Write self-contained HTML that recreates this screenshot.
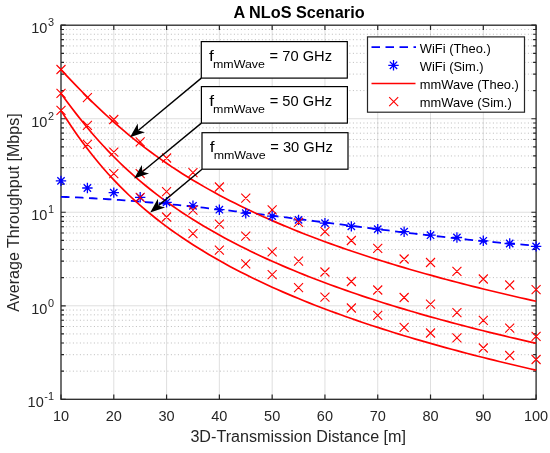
<!DOCTYPE html><html><head><meta charset="utf-8"><style>html,body{margin:0;padding:0;background:#fff;}svg{display:block;}text{font-family:"Liberation Sans",Arial,Helvetica,sans-serif;}</style></head><body>
<svg width="550" height="453" viewBox="0 0 550 453">
<rect x="0" y="0" width="550" height="453" fill="#fff"/>
<path d="M62.4 371.15H535.1 M62.4 354.68H535.1 M62.4 342.99H535.1 M62.4 333.93H535.1 M62.4 326.52H535.1 M62.4 320.26H535.1 M62.4 314.84H535.1 M62.4 310.05H535.1 M62.4 277.62H535.1 M62.4 261.15H535.1 M62.4 249.47H535.1 M62.4 240.40H535.1 M62.4 233.00H535.1 M62.4 226.74H535.1 M62.4 221.31H535.1 M62.4 216.53H535.1 M62.4 184.10H535.1 M62.4 167.63H535.1 M62.4 155.94H535.1 M62.4 146.88H535.1 M62.4 139.47H535.1 M62.4 133.21H535.1 M62.4 127.79H535.1 M62.4 123.00H535.1 M62.4 90.57H535.1 M62.4 74.10H535.1 M62.4 62.42H535.1 M62.4 53.35H535.1 M62.4 45.95H535.1 M62.4 39.69H535.1 M62.4 34.26H535.1 M62.4 29.48H535.1" stroke="#262626" stroke-opacity="0.3" stroke-width="1" stroke-dasharray="1 2.5" fill="none"/>
<path d="M61.0 305.78H536.1 M61.0 212.25H536.1 M61.0 118.73H536.1 M113.79 25.2V399.3 M166.58 25.2V399.3 M219.37 25.2V399.3 M272.16 25.2V399.3 M324.94 25.2V399.3 M377.73 25.2V399.3 M430.52 25.2V399.3 M483.31 25.2V399.3" stroke="#262626" stroke-opacity="0.15" stroke-width="1" fill="none"/>
<path d="M61.00 399.3v-4.75M61.00 25.2v4.75 M113.79 399.3v-4.75M113.79 25.2v4.75 M166.58 399.3v-4.75M166.58 25.2v4.75 M219.37 399.3v-4.75M219.37 25.2v4.75 M272.16 399.3v-4.75M272.16 25.2v4.75 M324.94 399.3v-4.75M324.94 25.2v4.75 M377.73 399.3v-4.75M377.73 25.2v4.75 M430.52 399.3v-4.75M430.52 25.2v4.75 M483.31 399.3v-4.75M483.31 25.2v4.75 M536.10 399.3v-4.75M536.10 25.2v4.75 M61.0 399.30h4.75M536.1 399.30h-4.75 M61.0 305.78h4.75M536.1 305.78h-4.75 M61.0 212.25h4.75M536.1 212.25h-4.75 M61.0 118.73h4.75M536.1 118.73h-4.75 M61.0 25.20h4.75M536.1 25.20h-4.75 M61.0 371.15h3.0M536.1 371.15h-3.0 M61.0 354.68h3.0M536.1 354.68h-3.0 M61.0 342.99h3.0M536.1 342.99h-3.0 M61.0 333.93h3.0M536.1 333.93h-3.0 M61.0 326.52h3.0M536.1 326.52h-3.0 M61.0 320.26h3.0M536.1 320.26h-3.0 M61.0 314.84h3.0M536.1 314.84h-3.0 M61.0 310.05h3.0M536.1 310.05h-3.0 M61.0 277.62h3.0M536.1 277.62h-3.0 M61.0 261.15h3.0M536.1 261.15h-3.0 M61.0 249.47h3.0M536.1 249.47h-3.0 M61.0 240.40h3.0M536.1 240.40h-3.0 M61.0 233.00h3.0M536.1 233.00h-3.0 M61.0 226.74h3.0M536.1 226.74h-3.0 M61.0 221.31h3.0M536.1 221.31h-3.0 M61.0 216.53h3.0M536.1 216.53h-3.0 M61.0 184.10h3.0M536.1 184.10h-3.0 M61.0 167.63h3.0M536.1 167.63h-3.0 M61.0 155.94h3.0M536.1 155.94h-3.0 M61.0 146.88h3.0M536.1 146.88h-3.0 M61.0 139.47h3.0M536.1 139.47h-3.0 M61.0 133.21h3.0M536.1 133.21h-3.0 M61.0 127.79h3.0M536.1 127.79h-3.0 M61.0 123.00h3.0M536.1 123.00h-3.0 M61.0 90.57h3.0M536.1 90.57h-3.0 M61.0 74.10h3.0M536.1 74.10h-3.0 M61.0 62.42h3.0M536.1 62.42h-3.0 M61.0 53.35h3.0M536.1 53.35h-3.0 M61.0 45.95h3.0M536.1 45.95h-3.0 M61.0 39.69h3.0M536.1 39.69h-3.0 M61.0 34.26h3.0M536.1 34.26h-3.0 M61.0 29.48h3.0M536.1 29.48h-3.0" stroke="#262626" stroke-width="1.2" fill="none"/>
<rect x="61.0" y="25.2" width="475.1" height="374.1" fill="none" stroke="#262626" stroke-width="1.3"/>
<path d="M61.00 196.81 L66.28 197.01 L71.56 197.22 L76.84 197.46 L82.12 197.71 L87.39 197.99 L92.67 198.27 L97.95 198.58 L103.23 198.90 L108.51 199.24 L113.79 199.60 L119.07 199.97 L124.35 200.35 L129.63 200.75 L134.90 201.17 L140.18 201.60 L145.46 202.04 L150.74 202.50 L156.02 202.96 L161.30 203.45 L166.58 203.94 L171.86 204.44 L177.14 204.96 L182.41 205.49 L187.69 206.02 L192.97 206.57 L198.25 207.13 L203.53 207.69 L208.81 208.27 L214.09 208.85 L219.37 209.45 L224.65 210.05 L229.92 210.65 L235.20 211.27 L240.48 211.89 L245.76 212.52 L251.04 213.15 L256.32 213.79 L261.60 214.44 L266.88 215.09 L272.16 215.74 L277.43 216.40 L282.71 217.06 L287.99 217.72 L293.27 218.39 L298.55 219.06 L303.83 219.73 L309.11 220.41 L314.39 221.08 L319.67 221.76 L324.94 222.44 L330.22 223.11 L335.50 223.79 L340.78 224.47 L346.06 225.14 L351.34 225.82 L356.62 226.49 L361.90 227.16 L367.18 227.83 L372.45 228.50 L377.73 229.16 L383.01 229.82 L388.29 230.47 L393.57 231.12 L398.85 231.77 L404.13 232.41 L409.41 233.04 L414.69 233.67 L419.96 234.29 L425.24 234.91 L430.52 235.52 L435.80 236.12 L441.08 236.71 L446.36 237.30 L451.64 237.88 L456.92 238.44 L462.20 239.00 L467.47 239.55 L472.75 240.09 L478.03 240.62 L483.31 241.14 L488.59 241.64 L493.87 242.14 L499.15 242.62 L504.43 243.09 L509.71 243.55 L514.98 243.99 L520.26 244.42 L525.54 244.84 L530.82 245.24 L536.10 245.63" stroke="#0000ff" stroke-width="1.8" stroke-dasharray="8.5 5.5" fill="none"/>
<path d="M61.00 69.70 L66.28 75.34 L71.56 80.91 L76.84 86.39 L82.12 91.78 L87.39 97.09 L92.67 102.29 L97.95 107.39 L103.23 112.38 L108.51 117.25 L113.79 122.00 L119.07 126.64 L124.35 131.16 L129.63 135.56 L134.90 139.84 L140.18 144.02 L145.46 148.08 L150.74 152.03 L156.02 155.88 L161.30 159.62 L166.58 163.27 L171.86 166.83 L177.14 170.30 L182.41 173.67 L187.69 176.97 L192.97 180.18 L198.25 183.32 L203.53 186.38 L208.81 189.38 L214.09 192.30 L219.37 195.16 L224.65 197.95 L229.92 200.68 L235.20 203.36 L240.48 205.98 L245.76 208.54 L251.04 211.06 L256.32 213.52 L261.60 215.93 L266.88 218.30 L272.16 220.62 L277.43 222.90 L282.71 225.14 L287.99 227.34 L293.27 229.50 L298.55 231.62 L303.83 233.70 L309.11 235.75 L314.39 237.76 L319.67 239.74 L324.94 241.69 L330.22 243.61 L335.50 245.50 L340.78 247.36 L346.06 249.19 L351.34 250.99 L356.62 252.76 L361.90 254.51 L367.18 256.24 L372.45 257.94 L377.73 259.61 L383.01 261.27 L388.29 262.90 L393.57 264.50 L398.85 266.09 L404.13 267.66 L409.41 269.20 L414.69 270.73 L419.96 272.23 L425.24 273.72 L430.52 275.19 L435.80 276.64 L441.08 278.07 L446.36 279.49 L451.64 280.89 L456.92 282.27 L462.20 283.64 L467.47 284.99 L472.75 286.33 L478.03 287.65 L483.31 288.96 L488.59 290.25 L493.87 291.53 L499.15 292.79 L504.43 294.04 L509.71 295.28 L514.98 296.51 L520.26 297.72 L525.54 298.92 L530.82 300.11 L536.10 301.29" stroke="#ff0000" stroke-width="1.7" fill="none" stroke-linejoin="round"/>
<path d="M61.00 93.59 L66.28 100.78 L71.56 107.79 L76.84 114.63 L82.12 121.27 L87.39 127.70 L92.67 133.93 L97.95 139.94 L103.23 145.75 L108.51 151.35 L113.79 156.76 L119.07 161.98 L124.35 167.02 L129.63 171.88 L134.90 176.58 L140.18 181.12 L145.46 185.51 L150.74 189.77 L156.02 193.89 L161.30 197.88 L166.58 201.75 L171.86 205.51 L177.14 209.16 L182.41 212.71 L187.69 216.16 L192.97 219.52 L198.25 222.79 L203.53 225.97 L208.81 229.08 L214.09 232.11 L219.37 235.06 L224.65 237.95 L229.92 240.77 L235.20 243.53 L240.48 246.23 L245.76 248.86 L251.04 251.44 L256.32 253.97 L261.60 256.45 L266.88 258.87 L272.16 261.25 L277.43 263.59 L282.71 265.87 L287.99 268.12 L293.27 270.33 L298.55 272.49 L303.83 274.62 L309.11 276.71 L314.39 278.76 L319.67 280.78 L324.94 282.77 L330.22 284.72 L335.50 286.64 L340.78 288.54 L346.06 290.40 L351.34 292.23 L356.62 294.04 L361.90 295.82 L367.18 297.57 L372.45 299.30 L377.73 301.01 L383.01 302.69 L388.29 304.34 L393.57 305.98 L398.85 307.59 L404.13 309.18 L409.41 310.75 L414.69 312.30 L419.96 313.83 L425.24 315.34 L430.52 316.83 L435.80 318.30 L441.08 319.75 L446.36 321.19 L451.64 322.61 L456.92 324.02 L462.20 325.40 L467.47 326.77 L472.75 328.13 L478.03 329.47 L483.31 330.79 L488.59 332.10 L493.87 333.40 L499.15 334.68 L504.43 335.95 L509.71 337.21 L514.98 338.45 L520.26 339.68 L525.54 340.90 L530.82 342.10 L536.10 343.29" stroke="#ff0000" stroke-width="1.7" fill="none" stroke-linejoin="round"/>
<path d="M61.00 110.60 L66.28 118.82 L71.56 126.76 L76.84 134.41 L82.12 141.76 L87.39 148.81 L92.67 155.57 L97.95 162.04 L103.23 168.25 L108.51 174.21 L113.79 179.92 L119.07 185.41 L124.35 190.68 L129.63 195.75 L134.90 200.63 L140.18 205.34 L145.46 209.89 L150.74 214.27 L156.02 218.51 L161.30 222.62 L166.58 226.59 L171.86 230.44 L177.14 234.18 L182.41 237.81 L187.69 241.33 L192.97 244.76 L198.25 248.09 L203.53 251.34 L208.81 254.50 L214.09 257.59 L219.37 260.59 L224.65 263.53 L229.92 266.40 L235.20 269.20 L240.48 271.94 L245.76 274.61 L251.04 277.23 L256.32 279.80 L261.60 282.31 L266.88 284.77 L272.16 287.18 L277.43 289.55 L282.71 291.86 L287.99 294.14 L293.27 296.37 L298.55 298.57 L303.83 300.72 L309.11 302.84 L314.39 304.92 L319.67 306.96 L324.94 308.97 L330.22 310.95 L335.50 312.90 L340.78 314.81 L346.06 316.70 L351.34 318.55 L356.62 320.38 L361.90 322.18 L367.18 323.95 L372.45 325.70 L377.73 327.43 L383.01 329.12 L388.29 330.80 L393.57 332.45 L398.85 334.08 L404.13 335.69 L409.41 337.28 L414.69 338.84 L419.96 340.39 L425.24 341.92 L430.52 343.42 L435.80 344.91 L441.08 346.38 L446.36 347.84 L451.64 349.27 L456.92 350.69 L462.20 352.09 L467.47 353.48 L472.75 354.85 L478.03 356.20 L483.31 357.54 L488.59 358.87 L493.87 360.18 L499.15 361.47 L504.43 362.75 L509.71 364.02 L514.98 365.28 L520.26 366.52 L525.54 367.75 L530.82 368.97 L536.10 370.17" stroke="#ff0000" stroke-width="1.7" fill="none" stroke-linejoin="round"/>
<path d="M55.80 180.90h10.40M61.00 175.70v10.40M57.32 177.22l7.35 7.35M57.32 184.58l7.35 -7.35 M82.19 188.00h10.40M87.39 182.80v10.40M83.72 184.32l7.35 7.35M83.72 191.68l7.35 -7.35 M108.59 192.60h10.40M113.79 187.40v10.40M110.11 188.92l7.35 7.35M110.11 196.28l7.35 -7.35 M134.98 197.30h10.40M140.18 192.10v10.40M136.51 193.62l7.35 7.35M136.51 200.98l7.35 -7.35 M161.38 202.30h10.40M166.58 197.10v10.40M162.90 198.62l7.35 7.35M162.90 205.98l7.35 -7.35 M187.77 205.80h10.40M192.97 200.60v10.40M189.30 202.12l7.35 7.35M189.30 209.48l7.35 -7.35 M214.17 209.70h10.40M219.37 204.50v10.40M215.69 206.02l7.35 7.35M215.69 213.38l7.35 -7.35 M240.56 213.20h10.40M245.76 208.00v10.40M242.08 209.52l7.35 7.35M242.08 216.88l7.35 -7.35 M266.96 216.10h10.40M272.16 210.90v10.40M268.48 212.42l7.35 7.35M268.48 219.78l7.35 -7.35 M293.35 219.90h10.40M298.55 214.70v10.40M294.87 216.22l7.35 7.35M294.87 223.58l7.35 -7.35 M319.74 223.10h10.40M324.94 217.90v10.40M321.27 219.42l7.35 7.35M321.27 226.78l7.35 -7.35 M346.14 226.40h10.40M351.34 221.20v10.40M347.66 222.72l7.35 7.35M347.66 230.08l7.35 -7.35 M372.53 229.10h10.40M377.73 223.90v10.40M374.06 225.42l7.35 7.35M374.06 232.78l7.35 -7.35 M398.93 231.70h10.40M404.13 226.50v10.40M400.45 228.02l7.35 7.35M400.45 235.38l7.35 -7.35 M425.32 235.20h10.40M430.52 230.00v10.40M426.85 231.52l7.35 7.35M426.85 238.88l7.35 -7.35 M451.72 237.50h10.40M456.92 232.30v10.40M453.24 233.82l7.35 7.35M453.24 241.18l7.35 -7.35 M478.11 240.80h10.40M483.31 235.60v10.40M479.63 237.12l7.35 7.35M479.63 244.48l7.35 -7.35 M504.51 243.50h10.40M509.71 238.30v10.40M506.03 239.82l7.35 7.35M506.03 247.18l7.35 -7.35 M530.90 246.40h10.40M536.10 241.20v10.40M532.42 242.72l7.35 7.35M532.42 250.08l7.35 -7.35" stroke="#0000ff" stroke-width="1.3" fill="none"/>
<path d="M56.50 65.00l9.00 9.00M56.50 74.00l9.00 -9.00 M82.89 93.10l9.00 9.00M82.89 102.10l9.00 -9.00 M109.29 115.00l9.00 9.00M109.29 124.00l9.00 -9.00 M135.68 137.30l9.00 9.00M135.68 146.30l9.00 -9.00 M162.08 153.50l9.00 9.00M162.08 162.50l9.00 -9.00 M188.47 168.10l9.00 9.00M188.47 177.10l9.00 -9.00 M214.87 182.50l9.00 9.00M214.87 191.50l9.00 -9.00 M241.26 193.60l9.00 9.00M241.26 202.60l9.00 -9.00 M267.66 205.30l9.00 9.00M267.66 214.30l9.00 -9.00 M294.05 217.90l9.00 9.00M294.05 226.90l9.00 -9.00 M320.44 227.10l9.00 9.00M320.44 236.10l9.00 -9.00 M346.84 236.00l9.00 9.00M346.84 245.00l9.00 -9.00 M373.23 243.90l9.00 9.00M373.23 252.90l9.00 -9.00 M399.63 254.50l9.00 9.00M399.63 263.50l9.00 -9.00 M426.02 258.00l9.00 9.00M426.02 267.00l9.00 -9.00 M452.42 266.80l9.00 9.00M452.42 275.80l9.00 -9.00 M478.81 274.50l9.00 9.00M478.81 283.50l9.00 -9.00 M505.21 280.50l9.00 9.00M505.21 289.50l9.00 -9.00 M531.60 285.20l9.00 9.00M531.60 294.20l9.00 -9.00 M56.50 88.90l9.00 9.00M56.50 97.90l9.00 -9.00 M82.89 120.90l9.00 9.00M82.89 129.90l9.00 -9.00 M109.29 147.70l9.00 9.00M109.29 156.70l9.00 -9.00 M135.68 169.10l9.00 9.00M135.68 178.10l9.00 -9.00 M162.08 187.20l9.00 9.00M162.08 196.20l9.00 -9.00 M188.47 205.70l9.00 9.00M188.47 214.70l9.00 -9.00 M214.87 219.70l9.00 9.00M214.87 228.70l9.00 -9.00 M241.26 231.70l9.00 9.00M241.26 240.70l9.00 -9.00 M267.66 247.30l9.00 9.00M267.66 256.30l9.00 -9.00 M294.05 256.60l9.00 9.00M294.05 265.60l9.00 -9.00 M320.44 267.50l9.00 9.00M320.44 276.50l9.00 -9.00 M346.84 277.00l9.00 9.00M346.84 286.00l9.00 -9.00 M373.23 285.50l9.00 9.00M373.23 294.50l9.00 -9.00 M399.63 293.00l9.00 9.00M399.63 302.00l9.00 -9.00 M426.02 299.70l9.00 9.00M426.02 308.70l9.00 -9.00 M452.42 308.20l9.00 9.00M452.42 317.20l9.00 -9.00 M478.81 315.90l9.00 9.00M478.81 324.90l9.00 -9.00 M505.21 323.60l9.00 9.00M505.21 332.60l9.00 -9.00 M531.60 331.80l9.00 9.00M531.60 340.80l9.00 -9.00 M56.50 105.80l9.00 9.00M56.50 114.80l9.00 -9.00 M82.89 139.90l9.00 9.00M82.89 148.90l9.00 -9.00 M109.29 169.10l9.00 9.00M109.29 178.10l9.00 -9.00 M135.68 192.90l9.00 9.00M135.68 201.90l9.00 -9.00 M162.08 212.50l9.00 9.00M162.08 221.50l9.00 -9.00 M188.47 229.10l9.00 9.00M188.47 238.10l9.00 -9.00 M214.87 245.70l9.00 9.00M214.87 254.70l9.00 -9.00 M241.26 259.30l9.00 9.00M241.26 268.30l9.00 -9.00 M267.66 270.20l9.00 9.00M267.66 279.20l9.00 -9.00 M294.05 283.10l9.00 9.00M294.05 292.10l9.00 -9.00 M320.44 292.70l9.00 9.00M320.44 301.70l9.00 -9.00 M346.84 303.50l9.00 9.00M346.84 312.50l9.00 -9.00 M373.23 310.90l9.00 9.00M373.23 319.90l9.00 -9.00 M399.63 322.80l9.00 9.00M399.63 331.80l9.00 -9.00 M426.02 328.50l9.00 9.00M426.02 337.50l9.00 -9.00 M452.42 333.30l9.00 9.00M452.42 342.30l9.00 -9.00 M478.81 343.50l9.00 9.00M478.81 352.50l9.00 -9.00 M505.21 351.00l9.00 9.00M505.21 360.00l9.00 -9.00 M531.60 355.00l9.00 9.00M531.60 364.00l9.00 -9.00" stroke="#ff0000" stroke-width="1.1" fill="none"/>
<text x="61.00" y="420.8" font-size="14.5" fill="#262626" text-anchor="middle">10</text>
<text x="113.79" y="420.8" font-size="14.5" fill="#262626" text-anchor="middle">20</text>
<text x="166.58" y="420.8" font-size="14.5" fill="#262626" text-anchor="middle">30</text>
<text x="219.37" y="420.8" font-size="14.5" fill="#262626" text-anchor="middle">40</text>
<text x="272.16" y="420.8" font-size="14.5" fill="#262626" text-anchor="middle">50</text>
<text x="324.94" y="420.8" font-size="14.5" fill="#262626" text-anchor="middle">60</text>
<text x="377.73" y="420.8" font-size="14.5" fill="#262626" text-anchor="middle">70</text>
<text x="430.52" y="420.8" font-size="14.5" fill="#262626" text-anchor="middle">80</text>
<text x="483.31" y="420.8" font-size="14.5" fill="#262626" text-anchor="middle">90</text>
<text x="536.10" y="420.8" font-size="14.5" fill="#262626" text-anchor="middle">100</text>
<text x="54.0" y="407.20" font-size="14.5" fill="#262626" text-anchor="end">10<tspan font-size="10.9" dx="0.6" dy="-7.0">-1</tspan></text>
<text x="54.0" y="313.68" font-size="14.5" fill="#262626" text-anchor="end">10<tspan font-size="10.9" dx="0.6" dy="-7.0">0</tspan></text>
<text x="54.0" y="220.15" font-size="14.5" fill="#262626" text-anchor="end">10<tspan font-size="10.9" dx="0.6" dy="-7.0">1</tspan></text>
<text x="54.0" y="126.63" font-size="14.5" fill="#262626" text-anchor="end">10<tspan font-size="10.9" dx="0.6" dy="-7.0">2</tspan></text>
<text x="54.0" y="33.10" font-size="14.5" fill="#262626" text-anchor="end">10<tspan font-size="10.9" dx="0.6" dy="-7.0">3</tspan></text>
<text transform="translate(298.2 441.6) scale(1.0225 1)" x="0" y="0" font-size="15.8" fill="#262626" text-anchor="middle">3D-Transmission Distance [m]</text>
<text transform="translate(19.3 212.5) rotate(-90) scale(1.0165 1)" x="0" y="0" font-size="15.8" fill="#262626" text-anchor="middle">Average Throughput [Mbps]</text>
<text transform="translate(299 18.2) scale(1.016 1)" x="0" y="0" font-size="16" font-weight="bold" fill="#000" text-anchor="middle">A NLoS Scenario</text>
<rect x="367.5" y="36.9" width="157" height="75.3" fill="#fff" stroke="#262626" stroke-width="1.2"/>
<path d="M371.5 47.1H416" stroke="#0000ff" stroke-width="1.8" stroke-dasharray="8.5 5.5" fill="none"/>
<path d="M388.30 65.30h10.40M393.50 60.10v10.40M389.82 61.62l7.35 7.35M389.82 68.98l7.35 -7.35" stroke="#0000ff" stroke-width="1.3" fill="none"/>
<path d="M371.5 83.5H415.5" stroke="#ff0000" stroke-width="1.7" fill="none"/>
<path d="M389.20 97.20l9.00 9.00M389.20 106.20l9.00 -9.00" stroke="#ff0000" stroke-width="1.1" fill="none"/>
<text x="419.8" y="52.7" font-size="12.9" fill="#000">WiFi (Theo.)</text>
<text x="419.8" y="70.9" font-size="12.9" fill="#000">WiFi (Sim.)</text>
<text x="419.8" y="89.1" font-size="12.9" fill="#000">mmWave (Theo.)</text>
<text x="419.8" y="107.3" font-size="12.9" fill="#000">mmWave (Sim.)</text>
<path d="M201.30 78.10L138.23 130.46" stroke="#000" stroke-width="1.4" fill="none"/>
<path d="M130.00 137.30L137.70 123.56L138.23 130.46L144.92 132.26Z" fill="#000"/>
<rect x="201.3" y="41.6" width="146" height="36.5" fill="#fff" stroke="#000" stroke-width="1.2"/>
<text transform="translate(209.1 60.7) scale(1.2 1)" x="0" y="0" font-size="14.4" fill="#000">f</text>
<text transform="translate(212.95 67.7) scale(1.1 1)" x="0" y="0" font-size="11.3" fill="#000">mmWave</text>
<text transform="translate(269.6 60.7) scale(1.035 1)" x="0" y="0" font-size="14.2" fill="#000">= 70 GHz</text>
<path d="M201.40 123.10L142.36 171.79" stroke="#000" stroke-width="1.4" fill="none"/>
<path d="M134.10 178.60L141.85 164.89L142.36 171.79L149.04 173.61Z" fill="#000"/>
<rect x="201.4" y="86.6" width="146" height="36.5" fill="#fff" stroke="#000" stroke-width="1.2"/>
<text transform="translate(209.2 105.7) scale(1.2 1)" x="0" y="0" font-size="14.4" fill="#000">f</text>
<text transform="translate(213.05 112.7) scale(1.1 1)" x="0" y="0" font-size="11.3" fill="#000">mmWave</text>
<text transform="translate(269.7 105.7) scale(1.035 1)" x="0" y="0" font-size="14.2" fill="#000">= 50 GHz</text>
<path d="M202.00 169.20L158.41 205.64" stroke="#000" stroke-width="1.4" fill="none"/>
<path d="M150.20 212.50L157.85 198.74L158.41 205.64L165.10 207.41Z" fill="#000"/>
<rect x="202.0" y="132.7" width="146" height="36.5" fill="#fff" stroke="#000" stroke-width="1.2"/>
<text transform="translate(209.8 151.8) scale(1.2 1)" x="0" y="0" font-size="14.4" fill="#000">f</text>
<text transform="translate(213.65 158.8) scale(1.1 1)" x="0" y="0" font-size="11.3" fill="#000">mmWave</text>
<text transform="translate(270.3 151.8) scale(1.035 1)" x="0" y="0" font-size="14.2" fill="#000">= 30 GHz</text>
</svg></body></html>
